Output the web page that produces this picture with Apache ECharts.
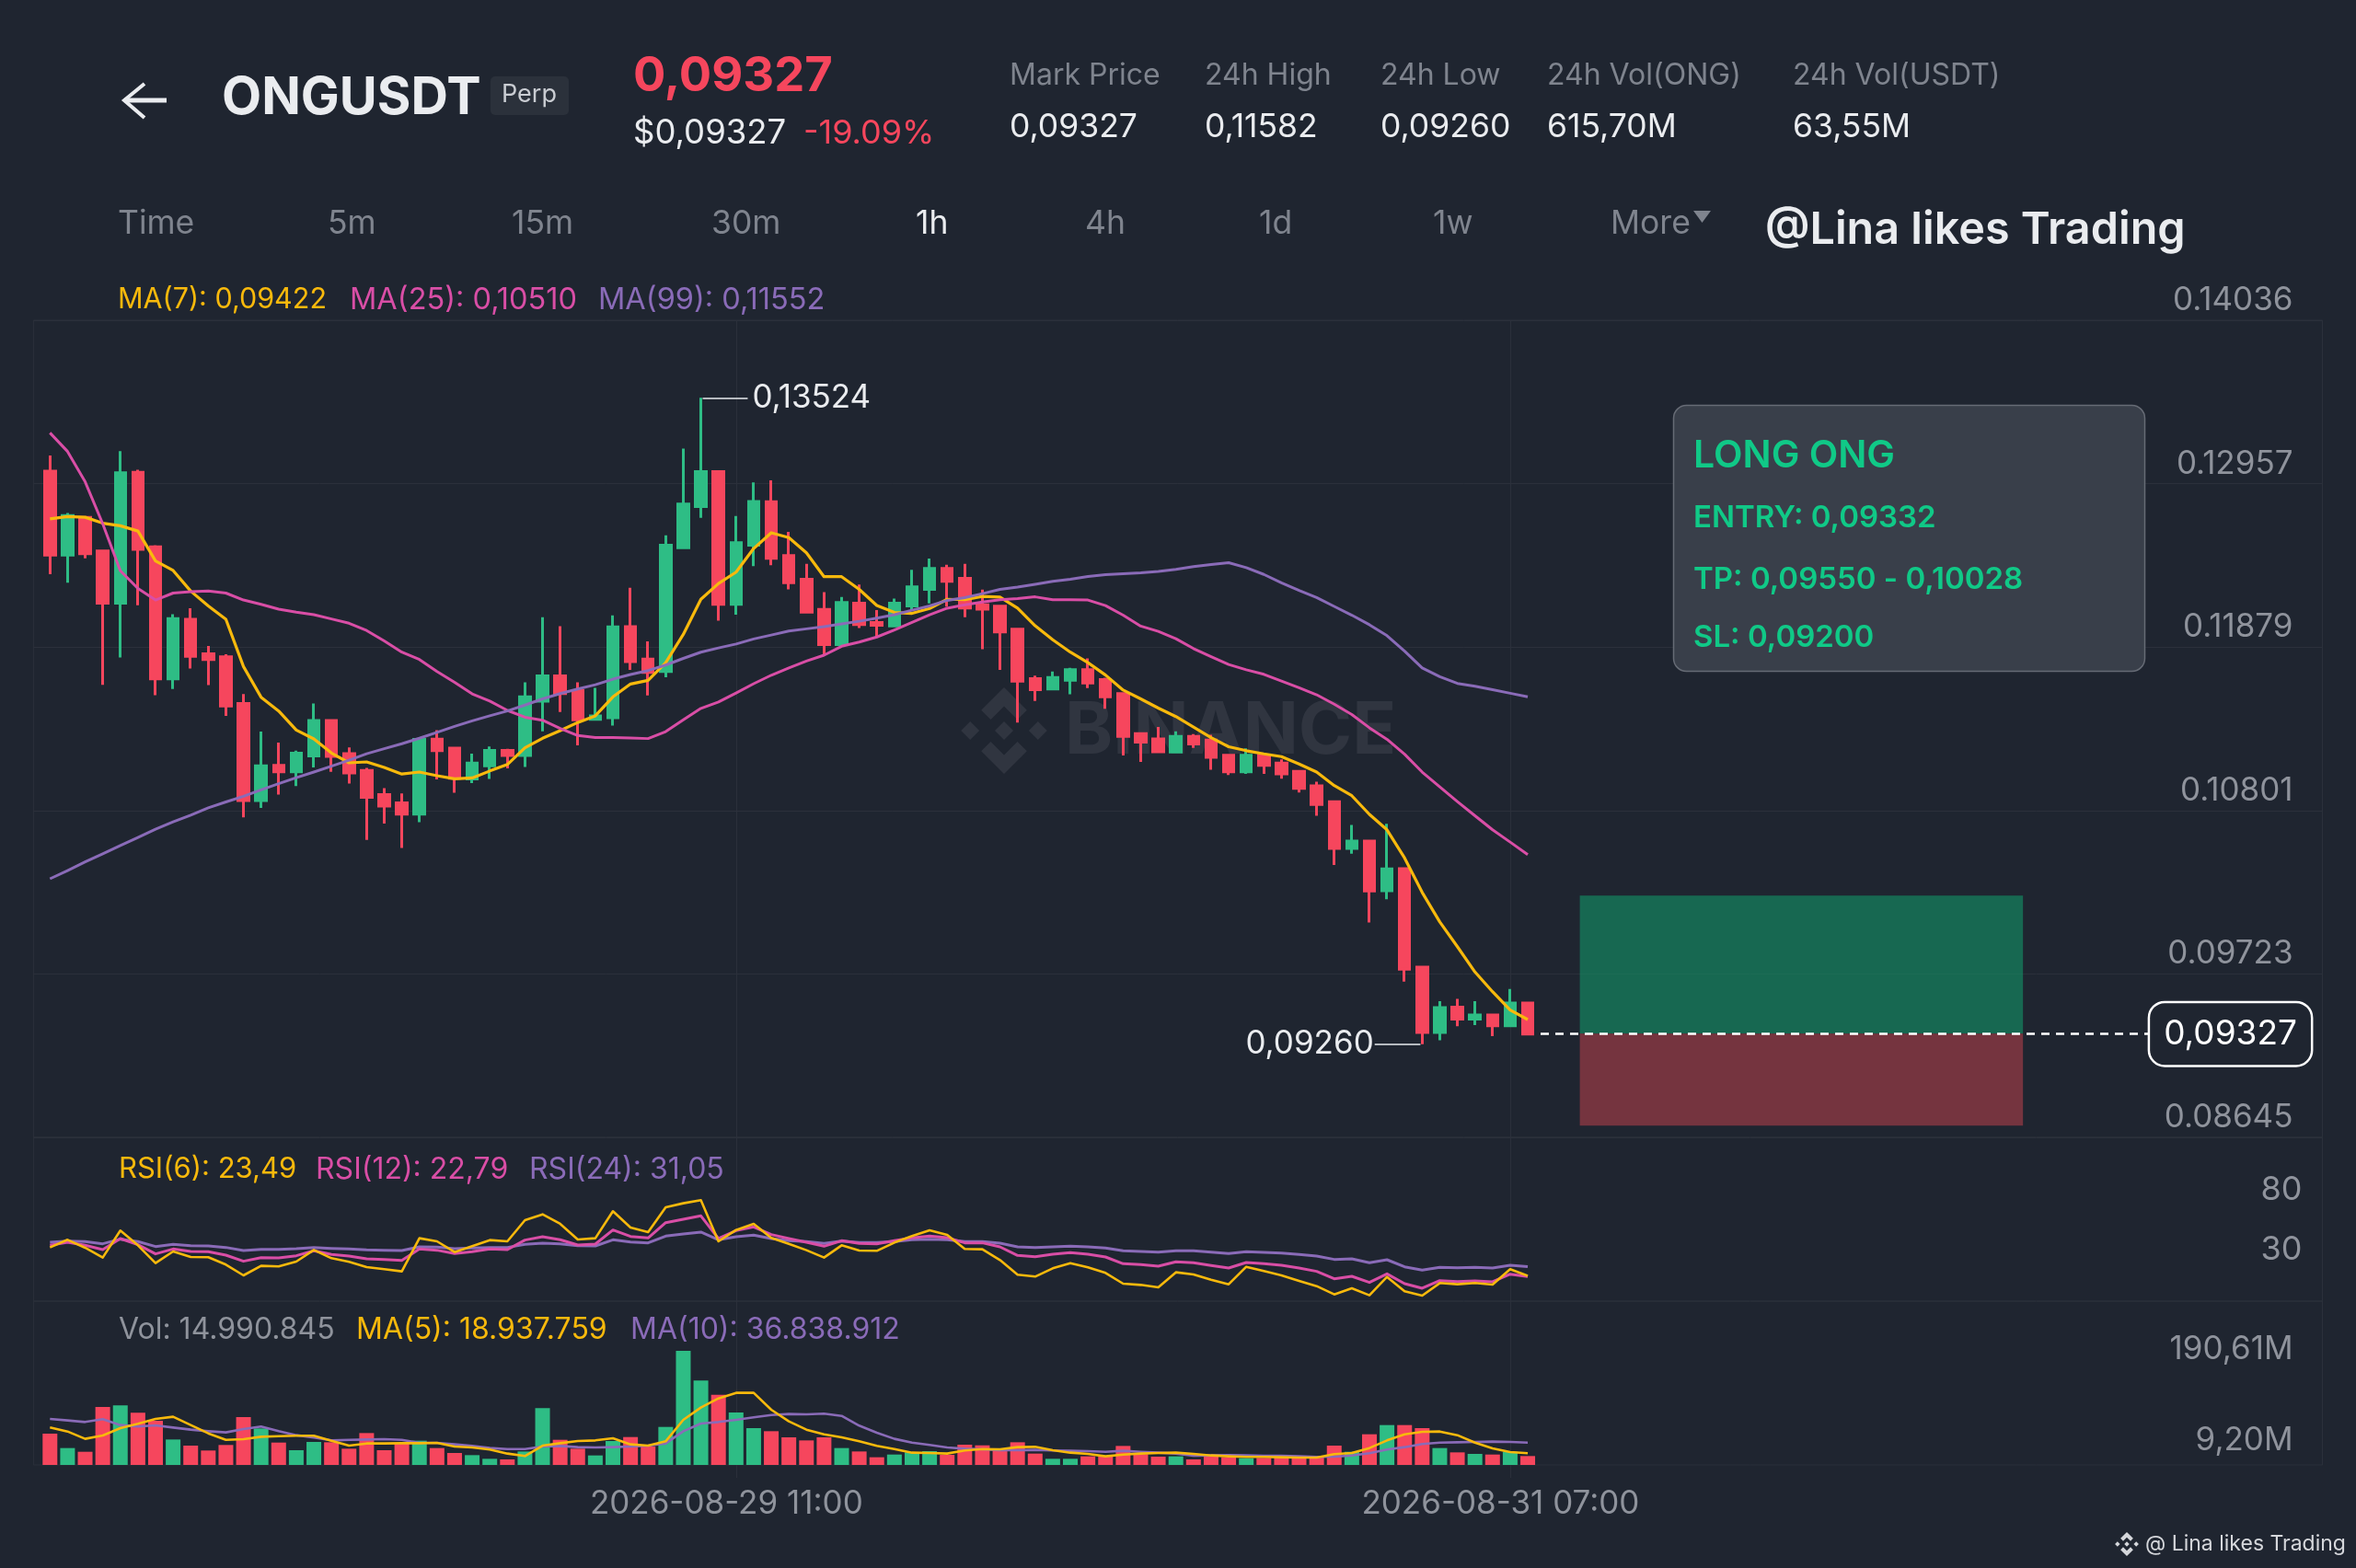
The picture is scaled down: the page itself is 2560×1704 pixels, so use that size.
<!DOCTYPE html>
<html><head><meta charset="utf-8">
<style>html,body{margin:0;padding:0;background:#1f2530}#c{width:2560px;height:1704px}</style>
<script src="https://cdn.jsdelivr.net/npm/echarts@6/dist/echarts.min.js"></script>
</head><body><div id="c"></div>
<script>
const xTickIndex=[39,83];
const xTickLabels=['2026-08-29 11:00','2026-08-31 07:00'];
const priceTicks=[0.08645,0.09723,0.10801,0.11879,0.12957,0.14036];
const rsiTicks=[30,80];
const volTicks=[9.20,190.61];
const volTickLabels=['9,20M','190,61M'];
// [open, close, low, high]
const candles=[
[0.13040,0.12487,0.12361,0.13144],[0.12487,0.12747,0.12305,0.12764],[0.12736,0.12496,0.12465,0.12740],[0.12513,0.12169,0.11631,0.12513],
[0.12169,0.13029,0.11811,0.13172],[0.13033,0.12524,0.12156,0.13050],[0.12541,0.11670,0.11562,0.12552],[0.11670,0.12067,0.11603,0.12097],
[0.12063,0.11818,0.11738,0.12136],[0.11835,0.11798,0.11629,0.11887],[0.11816,0.11491,0.11426,0.11833],[0.11508,0.10867,0.10756,0.11569],
[0.10867,0.11096,0.10819,0.11322],[0.11099,0.11057,0.10906,0.11250],[0.11057,0.11179,0.10962,0.11196],[0.11161,0.11395,0.11085,0.11508],
[0.11395,0.11159,0.11057,0.11395],[0.11176,0.11049,0.10979,0.11218],[0.11066,0.10888,0.10607,0.11083],[0.10906,0.10830,0.10715,0.10949],
[0.10852,0.10778,0.10555,0.10914],[0.10778,0.11270,0.10724,0.11280],[0.11272,0.11196,0.11007,0.11332],[0.11213,0.11014,0.10919,0.11213],
[0.11010,0.11114,0.10982,0.11176],[0.11096,0.11198,0.11010,0.11224],[0.11198,0.11164,0.11079,0.11209],[0.11164,0.11551,0.11088,0.11647],
[0.11523,0.11690,0.11324,0.12076],[0.11690,0.11573,0.11452,0.12017],[0.11592,0.11400,0.11231,0.11647],[0.11402,0.11426,0.11402,0.11610],
[0.11413,0.12013,0.11361,0.12089],[0.12015,0.11783,0.11729,0.12271],[0.11800,0.11712,0.11560,0.11917],[0.11718,0.12552,0.11681,0.12617],
[0.12535,0.12823,0.12535,0.13189],[0.12806,0.13037,0.12732,0.13524],[0.13037,0.12162,0.12054,0.13037],[0.12162,0.12569,0.12093,0.12745],
[0.12552,0.12840,0.12413,0.12966],[0.12838,0.12465,0.12420,0.12979],[0.12483,0.12305,0.12260,0.12639],[0.12327,0.12110,0.12102,0.12429],
[0.12128,0.11896,0.11833,0.12242],[0.11896,0.12173,0.11881,0.12210],[0.12169,0.12028,0.12006,0.12292],[0.12041,0.12024,0.11950,0.12123],
[0.12019,0.12169,0.12019,0.12199],[0.12151,0.12277,0.12125,0.12390],[0.12260,0.12398,0.12167,0.12463],[0.12398,0.12314,0.12147,0.12422],
[0.12333,0.12138,0.12076,0.12429],[0.12158,0.12130,0.11865,0.12258],[0.12149,0.11980,0.11729,0.12149],[0.11998,0.11655,0.11382,0.11998],
[0.11672,0.11598,0.11524,0.11691],[0.11603,0.11679,0.11603,0.11719],[0.11661,0.11730,0.11568,0.11742],[0.11730,0.11642,0.11609,0.11805],
[0.11665,0.11551,0.11473,0.11677],[0.11572,0.11291,0.11164,0.11572],[0.11308,0.11252,0.11122,0.11312],[0.11273,0.11189,0.11189,0.11352],
[0.11187,0.11291,0.11180,0.11324],[0.11291,0.11240,0.11215,0.11305],[0.11266,0.11152,0.11071,0.11301],[0.11166,0.11057,0.11036,0.11166],
[0.11057,0.11166,0.11043,0.11212],[0.11166,0.11099,0.11043,0.11173],[0.11115,0.11043,0.11011,0.11138],[0.11059,0.10948,0.10920,0.11059],
[0.10964,0.10841,0.10767,0.10992],[0.10860,0.10551,0.10442,0.10860],[0.10551,0.10600,0.10516,0.10706],[0.10600,0.10270,0.10063,0.10600],
[0.10272,0.10416,0.10216,0.10713],[0.10418,0.09755,0.09673,0.10418],[0.09768,0.09337,0.09260,0.09768],[0.09337,0.09501,0.09286,0.09543],
[0.09504,0.09425,0.09378,0.09559],[0.09425,0.09453,0.09385,0.09543],[0.09453,0.09381,0.09313,0.09462],[0.09381,0.09532,0.09381,0.09624],
[0.09532,0.09327,0.09327,0.09541]];
const ma7=[0.12725,0.12741,0.12736,0.12697,0.12680,0.12645,0.12448,0.12385,0.12249,0.12151,0.12063,0.11751,0.11549,0.11458,0.11332,0.11274,0.11181,0.11116,0.11122,0.11085,0.11042,0.11055,0.11031,0.11010,0.11016,0.11062,0.11105,0.11215,0.11278,
0.11328,0.11382,0.11426,0.11551,0.11636,0.11660,0.11777,0.11963,0.12195,0.12299,0.12374,0.12530,0.12634,0.12602,0.12502,0.12344,0.12344,0.12260,0.12154,0.12108,0.12102,0.12134,0.12195,0.12192,0.12214,0.12210,0.12136,
0.12020,0.11928,0.11846,0.11777,0.11695,0.11596,0.11538,0.11477,0.11421,0.11352,0.11282,0.11222,0.11196,0.11175,0.11157,0.11108,0.11055,0.10966,0.10899,0.10776,0.10674,0.10488,0.10261,0.10066,0.09903,0.09736,0.09606,0.09485,0.09422];
const ma25=[0.13293,0.13170,0.12970,0.12693,0.12383,0.12266,0.12190,0.12236,0.12245,0.12249,0.12236,0.12190,0.12162,0.12130,0.12110,0.12093,0.12065,0.12037,0.11989,0.11920,0.11846,0.11798,0.11718,0.11647,0.11571,0.11523,0.11462,0.11417,0.11397,
0.11343,0.11296,0.11283,0.11283,0.11280,0.11276,0.11322,0.11400,0.11475,0.11517,0.11577,0.11638,0.11694,0.11742,0.11787,0.11826,0.11885,0.11913,0.11946,0.11993,0.12043,0.12093,0.12136,0.12158,0.12177,0.12192,0.12199,
0.12211,0.12192,0.12192,0.12190,0.12153,0.12090,0.12018,0.11983,0.11935,0.11870,0.11816,0.11765,0.11730,0.11700,0.11656,0.11612,0.11565,0.11503,0.11435,0.11347,0.11271,0.11173,0.11055,0.10957,0.10860,0.10767,0.10674,0.10593,0.10510];
const ma99=[0.10351,0.10405,0.10462,0.10516,0.10570,0.10624,0.10678,0.10726,0.10771,0.10819,0.10858,0.10895,0.10938,0.10979,0.11018,0.11055,0.11094,0.11133,0.11176,0.11209,0.11242,0.11278,0.11317,0.11356,0.11393,0.11426,0.11458,0.11497,0.11538,
0.11573,0.11603,0.11631,0.11668,0.11699,0.11725,0.11761,0.11805,0.11846,0.11874,0.11900,0.11933,0.11959,0.11985,0.12000,0.12015,0.12032,0.12050,0.12071,0.12093,0.12123,0.12151,0.12188,0.12206,0.12232,0.12260,0.12275,
0.12294,0.12313,0.12327,0.12345,0.12357,0.12364,0.12369,0.12378,0.12392,0.12410,0.12424,0.12436,0.12404,0.12359,0.12304,0.12253,0.12206,0.12148,0.12090,0.12027,0.11955,0.11853,0.11742,0.11684,0.11640,0.11621,0.11598,0.11575,0.11552];
const rsi6=[47.18,53.59,46.92,38.71,61.28,48.97,34.10,43.84,39.23,38.97,32.82,23.84,31.79,31.28,35.38,45.12,38.20,35.12,30.77,28.97,27.18,54.87,52.30,43.33,48.20,53.33,52.30,70.00,74.87,66.92,53.84,54.87,77.43,63.84,60.00,80.77,84.10,86.66,52.30,61.79,66.92,55.12,50.25,
44.87,38.71,48.97,44.61,44.36,51.28,56.66,61.53,57.69,45.89,45.64,36.66,24.36,22.82,29.74,34.10,30.51,25.89,16.92,15.89,13.84,26.41,24.61,20.25,16.41,31.02,27.43,23.84,19.23,14.87,7.94,13.07,7.18,22.56,10.51,6.92,17.43,16.41,17.43,16.15,28.97,23.49];
const rsi12=[48.97,51.53,48.97,45.38,54.61,49.48,41.79,45.89,43.84,43.59,40.77,35.64,38.71,38.46,40.25,44.36,41.28,40.00,37.69,37.18,36.41,45.89,44.87,42.05,43.59,45.89,45.38,53.33,56.15,53.59,49.23,50.00,61.79,56.41,55.12,67.94,70.77,73.59,54.61,61.28,64.36,57.94,54.61,
51.53,48.20,52.82,50.51,50.25,52.82,55.12,56.66,55.38,51.02,51.02,47.69,40.51,39.48,41.53,42.82,41.53,39.23,33.59,32.82,31.53,35.12,34.36,32.05,30.00,34.61,33.59,32.30,30.00,27.18,21.02,23.07,17.94,25.12,16.92,13.07,19.48,18.71,19.23,18.46,24.87,22.79];
const rsi24=[51.53,52.56,52.05,50.25,54.10,52.05,47.94,49.74,48.71,48.46,47.18,44.61,45.64,45.64,46.15,47.18,46.41,45.89,45.12,44.87,44.61,47.69,47.43,46.15,46.66,47.18,47.18,49.74,50.77,50.25,48.71,48.46,53.59,51.79,51.02,56.66,58.46,60.00,53.59,56.15,57.43,54.61,52.82,
52.05,50.51,52.56,51.28,51.28,52.05,53.59,54.10,53.59,52.05,52.05,50.77,47.69,47.18,47.69,48.20,47.69,46.66,44.36,43.84,43.33,44.36,44.36,43.33,42.05,43.59,43.07,42.56,41.28,40.00,37.18,37.69,34.36,36.92,31.02,28.20,30.51,30.25,30.51,30.00,32.30,31.05];
const volume=[62.2,33.6,26.2,115.3,118.3,103.7,87.8,50.6,38.4,28.7,39.7,95.2,72.6,44.5,29.3,45.8,45.1,32.3,63.4,29.3,42.7,48.2,33.6,23.8,19.5,12.2,11.0,26.8,112.9,50.0,32.3,18.9,47.6,55.5,36.6,75.6,226.9,167.8,139.7,104.3,73.2,67.1,54.9,
48.8,54.9,33.6,26.8,15.3,20.7,25.0,27.5,20.1,40.3,39.0,31.7,45.1,22.6,12.2,12.2,17.1,17.1,37.8,21.4,16.5,17.1,11.0,17.1,15.3,13.4,14.0,14.6,15.3,15.3,38.4,26.2,61.0,79.3,79.3,73.2,33.6,25.0,22.0,20.7,26.2,17.7];
const volMa5=[74.4,66.5,51.9,58.6,73.2,81.7,91.5,95.8,79.3,62.8,50.0,51.2,56.1,57.3,58.0,58.0,48.2,38.4,42.7,42.7,43.3,43.3,43.9,36.6,34.8,30.5,22.6,17.7,38.4,43.3,47.6,48.8,53.1,40.9,38.4,47.0,89.7,114.1,132.4,143.4,143.4,109.8,86.6,
70.2,61.0,54.9,47.0,37.8,31.7,24.4,23.8,22.6,28.7,31.7,31.1,35.4,36.0,29.3,24.4,22.0,17.1,20.7,22.6,23.8,24.4,22.0,18.9,17.1,15.9,15.9,15.3,14.6,14.6,21.4,23.8,33.6,48.8,61.0,65.9,66.5,59.2,44.5,32.9,25.6,23.2];
const volMa10=[91.5,88.5,85.4,90.9,79.3,76.3,78.7,74.4,70.2,67.1,64.7,71.4,76.3,67.1,59.2,54.3,48.8,50.0,50.6,51.2,50.0,43.9,43.9,40.9,37.8,33.6,31.7,31.7,36.6,37.8,35.4,34.8,35.4,36.6,38.4,42.7,67.1,82.4,85.4,89.7,94.6,99.4,101.3,
100.7,101.9,97.6,78.1,64.1,51.9,44.5,39.7,34.8,32.3,31.1,29.3,29.3,29.9,28.7,28.1,27.5,26.2,28.1,26.2,24.4,22.6,18.3,18.9,19.5,18.9,18.3,18.3,17.1,15.9,16.5,18.9,23.2,30.5,35.4,41.5,44.5,45.1,45.8,46.4,45.8,44.5];

const FONT='Inter';
const UP='#2ebd85',DOWN='#f6465d',YEL='#f8b90c',PINK='#d94ea6',PUR='#8a6bb8',GRID='#2b303b',TXT='#8f939c',MUTE='#7f848e',BG='#1f2530',WHITE='#eaecef';
const xMin=-0.936,xMax=129.17;
const idx=a=>a.map((v,i)=>[i,v]);
const lineS=(name,data,color,xi,w)=>({name,type:'line',xAxisIndex:xi,yAxisIndex:xi,data:idx(data),showSymbol:false,symbol:'none',silent:true,lineStyle:{color,width:w,join:'round'},z:5});
const xAxisBase=(gi,extra)=>Object.assign({type:'value',gridIndex:gi,min:xMin,max:xMax,axisLine:{show:false},
  axisTick:{show:false,customValues:xTickIndex},axisLabel:{show:false,customValues:xTickIndex},
  splitLine:{show:true,lineStyle:{color:GRID,width:1}}},extra||{});
const t=(text,x,y,size,color,weight,extra)=>Object.assign({type:'text',x,y,z:50,silent:true,style:{text,fill:color,font:(weight||400)+' '+size+'px '+FONT,textVerticalAlign:'middle',textBaseline:'middle'}},extra||{});

function logo(cx,cy,R,fill,z){
  const s=R/47, P=pts=>pts.map(p=>[cx+p[0]*s,cy+p[1]*s]);
  const shapes=[
   [[0,-47],[24.8,-22.2],[14.5,-12],[0,-26.5],[-14.5,-12],[-24.8,-22.2]],
   [[0,47],[24.8,22.2],[14.5,12],[0,26.5],[-14.5,12],[-24.8,22.2]],
   [[-36.8,-10],[-26.8,0],[-36.8,10],[-46.8,0]],
   [[36.8,-10],[46.8,0],[36.8,10],[26.8,0]],
   [[0,-10],[10,0],[0,10],[-10,0]]];
  return shapes.map(pts=>({type:'polygon',z,silent:true,shape:{points:P(pts)},style:{fill}}));
}

const graphics=[
  ...logo(1091,794,47,'#303540',1),
  t('BINANCE',1157,795,79,'#303540',700,{z:1}),
  {type:'polyline',z:50,silent:true,shape:{points:[[157,91],[135,109],[157,128]]},style:{stroke:'#eaecef',lineWidth:4,fill:null}},
  {type:'line',z:50,silent:true,shape:{x1:135,y1:109,x2:181,y2:109},style:{stroke:'#eaecef',lineWidth:5}},
  t('ONGUSDT',241,107,56,WHITE,700),
  {type:'rect',z:49,silent:true,shape:{x:533,y:83,width:85,height:42,r:5},style:{fill:'#2b313b'}},
  t('Perp',545,103,27,'#c9ccd2'),
  t('0,09327',688,83,52.5,'#f6465d',700),
  t('$0,09327',688,145,36.5,WHITE),
  t('-19.09%',873,145,36,'#f6465d'),
  ...[['Mark Price',1097,'0,09327'],['24h High',1309,'0,11582'],['24h Low',1500,'0,09260'],['24h Vol(ONG)',1681,'615,70M'],['24h Vol(USDT)',1948,'63,55M']]
    .flatMap(a=>[t(a[0],a[1],82,32,MUTE),t(a[2],a[1],138,35.5,WHITE)]),
  ...[['Time',128],['5m',356],['15m',556],['30m',773],['4h',1179],['1d',1368],['1w',1557],['More',1750]].map(a=>t(a[0],a[1],243,35.5,MUTE)),
  t('1h',995,243,35.5,WHITE),
  {type:'polygon',z:50,silent:true,shape:{points:[[1840,229],[1859,229],[1849.5,242]]},style:{fill:MUTE}},
  t('@Lina likes Trading',1918,250,48.5,WHITE,600),
  t('MA(7): 0,09422',128,326,30.5,YEL),t('MA(25): 0,10510',380,326,32.5,PINK),t('MA(99): 0,11552',650,326,32.5,PUR),
  t('RSI(6): 23,49',129,1271,31,YEL),t('RSI(12): 22,79',343,1271,32,PINK),t('RSI(24): 31,05',575,1271,32,PUR),
  t('Vol: 14.990.845',129,1445,32,TXT),t('MA(5): 18.937.759',387,1445,32,YEL),t('MA(10): 36.838.912',685,1445,32,PUR),
  {type:'rect',z:60,silent:true,shape:{x:1818.5,y:440.5,width:512,height:289,r:14},style:{fill:'#393f4a',stroke:'#666b75',lineWidth:1.5}},
  t('LONG ONG',1840,496,41,'#10c987',600,{z:61}),
  t('ENTRY: 0,09332',1840,563,33,'#10c987',600,{z:61}),
  t('TP: 0,09550 - 0,10028',1840,630,33,'#10c987',600,{z:61}),
  t('SL: 0,09200',1840,693,33,'#10c987',600,{z:61}),
  ...logo(2311,1678,13,'#d5d7db',50),
  t('@ Lina likes Trading',2331,1678,23,'#d5d7db')
];

const chart=echarts.init(document.getElementById('c'),null,{renderer:'canvas',width:2560,height:1704});
chart.setOption({
 animation:false,backgroundColor:BG,textStyle:{fontFamily:FONT},
 graphic:{elements:graphics},
 grid:[
  {left:36.4,width:2487.1,top:348,height:888,show:true,borderColor:GRID,borderWidth:1,backgroundColor:'transparent'},
  {left:36.4,width:2487.1,top:1236,height:178,show:true,borderColor:GRID,borderWidth:1,backgroundColor:'transparent'},
  {left:36.4,width:2487.1,top:1414,height:178,show:true,borderColor:GRID,borderWidth:1,backgroundColor:'transparent'}],
 xAxis:[xAxisBase(0),xAxisBase(1),xAxisBase(2,{
   axisTick:{show:true,length:14,customValues:xTickIndex,lineStyle:{color:GRID,width:1}},
   axisLabel:{show:true,customValues:xTickIndex,margin:25,fontSize:35,color:TXT,fontFamily:FONT,padding:[0,21,0,0],
     formatter:v=>xTickLabels[xTickIndex.indexOf(v)]}})],
 yAxis:[
  {type:'value',gridIndex:0,position:'right',min:priceTicks[0],max:priceTicks[5],axisLine:{show:false},
   axisTick:{show:false,customValues:priceTicks},splitLine:{show:true,lineStyle:{color:GRID,width:1}},
   axisLabel:{inside:true,margin:32,customValues:priceTicks,verticalAlign:'bottom',padding:[0,0,4,0],fontSize:35,color:TXT,fontFamily:FONT,showMinLabel:true,showMaxLabel:true,
     formatter:v=>v.toFixed(5)}},
  {type:'value',gridIndex:1,position:'right',min:2.3,max:139.2,axisLine:{show:false},
   axisTick:{show:false,customValues:rsiTicks},splitLine:{show:false},
   axisLabel:{inside:true,margin:22,customValues:rsiTicks,verticalAlign:'bottom',padding:[0,0,2,0],fontSize:36,color:TXT,fontFamily:FONT,formatter:v=>String(v)}},
  {type:'value',gridIndex:2,position:'right',min:0,max:325.74,axisLine:{show:false},
   axisTick:{show:false,customValues:volTicks},splitLine:{show:false},
   axisLabel:{inside:true,margin:32,customValues:volTicks,verticalAlign:'bottom',padding:[0,0,4,0],fontSize:35,color:TXT,fontFamily:FONT,showMinLabel:true,
     formatter:v=>volTickLabels[volTicks.indexOf(v)]}}],
 series:[
  {name:'ONGUSDT',type:'candlestick',xAxisIndex:0,yAxisIndex:0,barWidth:12,silent:true,z:3,
   data:candles.map((c,i)=>[i,c[0],c[1],c[2],c[3]]),
   itemStyle:{color:UP,color0:DOWN,borderColor:UP,borderColor0:DOWN,borderColorDoji:UP,borderWidth:3},
   markArea:{silent:true,z:4,itemStyle:{borderWidth:0},data:[
     [{coord:[86.96,0.10240],itemStyle:{color:'rgba(20,140,100,0.65)'}},{coord:[112.15,0.09329]}],
     [{coord:[86.96,0.09329],itemStyle:{color:'rgba(165,60,72,0.65)'}},{coord:[112.15,0.08723]}]]},
   markLine:{silent:true,symbol:'none',z:6,precision:5,data:[
     [{coord:[37.1,0.13524],lineStyle:{color:'#eaecef',width:1.5,type:'solid'},label:{show:true,position:'end',formatter:'0,13524',color:WHITE,fontSize:35,fontFamily:FONT,distance:5}},{coord:[39.66,0.13524]}],
     [{coord:[77.9,0.09260],lineStyle:{color:'#eaecef',width:1.5,type:'solid'},label:{show:true,position:'end',formatter:'0,09260',color:WHITE,fontSize:35,fontFamily:FONT,distance:1}},{coord:[75.3,0.09260]}],
     [{coord:[84.73,0.09327],lineStyle:{color:'#ffffff',width:2.5,type:[9,7]},label:{show:true,position:'end',formatter:'0,09327',color:'#ffffff',fontSize:37,fontFamily:FONT,distance:0,padding:[16,15,14,15],backgroundColor:BG,borderColor:'#ffffff',borderWidth:2.5,borderRadius:16}},{coord:[119.37,0.09327]}]]}},
  lineS('MA(7)',ma7,YEL,0,3.2),lineS('MA(25)',ma25,PINK,0,3),lineS('MA(99)',ma99,PUR,0,3),
  lineS('RSI(24)',rsi24,PUR,1,3),lineS('RSI(12)',rsi12,PINK,1,3),lineS('RSI(6)',rsi6,YEL,1,2.6),
  {name:'Vol',type:'bar',xAxisIndex:2,yAxisIndex:2,barWidth:16,silent:true,z:3,
   data:volume.map((v,i)=>({value:[i,v],itemStyle:{color:candles[i][1]>=candles[i][0]?UP:DOWN}}))},
  lineS('MA(10)',volMa10,PUR,2,2.6),lineS('MA(5)',volMa5,YEL,2,2.6)]
});
</script></body></html>
